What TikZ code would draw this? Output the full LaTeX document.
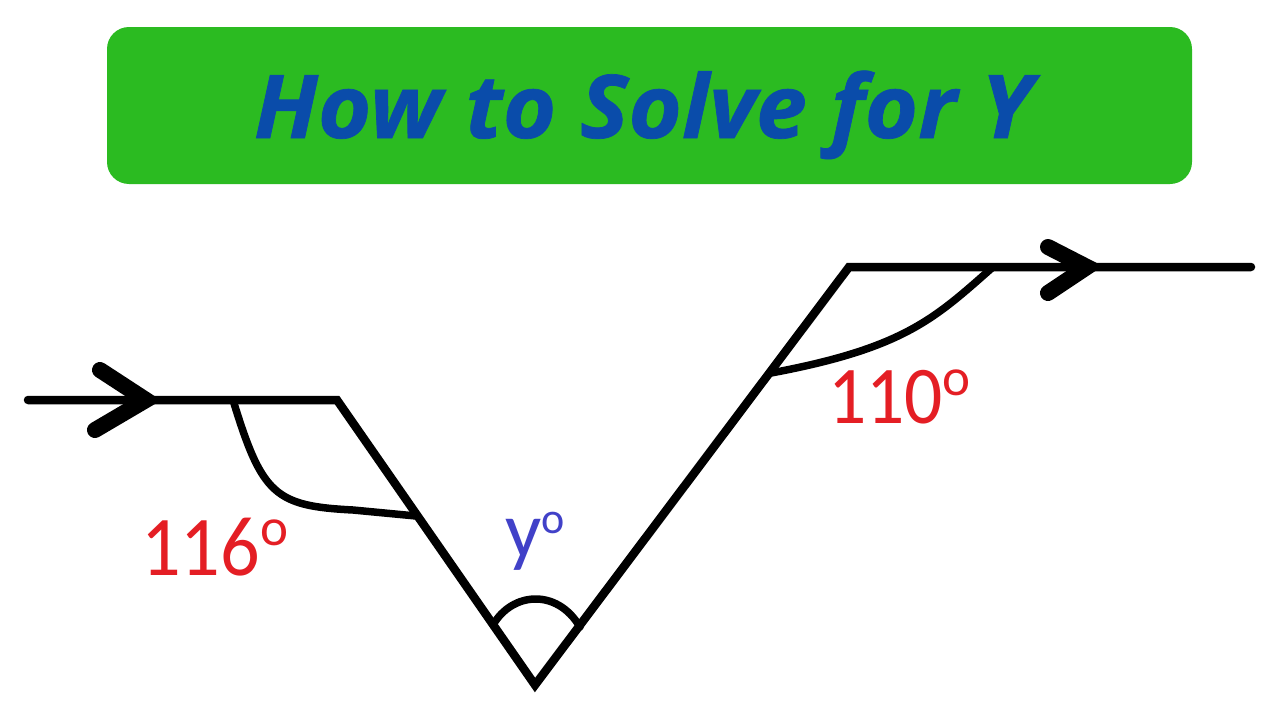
\documentclass[tikz,border=0pt]{standalone}
\usepackage{fontspec}
\usepackage{graphicx}
\newfontfamily\titlefont[BoldItalicFeatures={FakeBold=0.8}]{Open Sans}
\newfontfamily\labfont{Carlito}
\definecolor{titlegreen}{RGB}{43,187,33}
\definecolor{titleblue}{RGB}{10,76,170}
\definecolor{labred}{RGB}{228,30,36}
\definecolor{labblue}{RGB}{65,65,200}
\tikzset{
  geo/.style={line width=8.5pt, line cap=round, line join=miter, black},
  anglemark/.style={line width=7.5pt, line cap=round, black},
  chev/.style={line width=16pt, line cap=round, line join=miter, black},
  titlebox/.style={fill=titlegreen, rounded corners=22pt, draw=none},
  redlab/.style={anchor=base west, inner sep=0pt, text=labred, font=\labfont},
  bluelab/.style={anchor=base west, inner sep=0pt, text=labblue, font=\labfont}
}
\begin{document}
\begin{tikzpicture}[x=1pt,y=-1pt]
\useasboundingbox (0,0) rectangle (1280,720);
% title
\path[titlebox] (107,27) rectangle (1192,184);
\node[anchor=base, inner sep=0pt, text=titleblue] (title) at (643,138)
  {\resizebox{778pt}{\height}{\titlefont\bfseries\itshape\fontsize{88}{88}\selectfont How to Solve for Y}};
% geometry points
\coordinate (L0) at (28,400);
\coordinate (L1) at (337,400);
\coordinate (V) at (535,685);
\coordinate (R0) at (849,267);
\coordinate (R1) at (1251,267);
\draw[geo] (L0) -- (L1) -- (V) -- (R0) -- (R1);
% arrow chevrons
\coordinate (la1) at (100,370);
\coordinate (lat) at (146,400);
\coordinate (la2) at (95,430);
\draw[chev] (la1) -- (lat) -- (la2);
\coordinate (ra1) at (1048,247);
\coordinate (rat) at (1087,267);
\coordinate (ra2) at (1048,293);
\draw[chev] (ra1) -- (rat) -- (ra2);
% angle marks
\coordinate (a1s) at (233,400);
\coordinate (a1m) at (353,510);
\coordinate (a1e) at (416,516);
\draw[anglemark] (a1s) .. controls (262,495) and (275,506) .. (a1m) -- (a1e);
\coordinate (a2s) at (993,267);
\coordinate (a2e) at (771,373);
\draw[anglemark] (a2s) .. controls (935,318) and (905,348) .. (a2e);
\coordinate (a3s) at (493,625);
\coordinate (a3e) at (580,627);
\draw[anglemark] (a3s) .. controls (512,592) and (557,588) .. (a3e);
% labels
\node[redlab] (l116) at (141,575)
  {\scalebox{0.92}[1]{\fontsize{85}{85}\selectfont 116}\raisebox{30pt}{\fontsize{53}{53}\selectfont o}};
\node[redlab] (l110) at (828,423)
  {\scalebox{0.92}[1]{\fontsize{82}{82}\selectfont 110}\raisebox{28pt}{\fontsize{53}{53}\selectfont o}};
\node[bluelab] (ly) at (505,557)
  {\fontsize{80}{80}\selectfont y\raisebox{24pt}{\fontsize{44}{44}\selectfont o}};
\end{tikzpicture}
\end{document}
